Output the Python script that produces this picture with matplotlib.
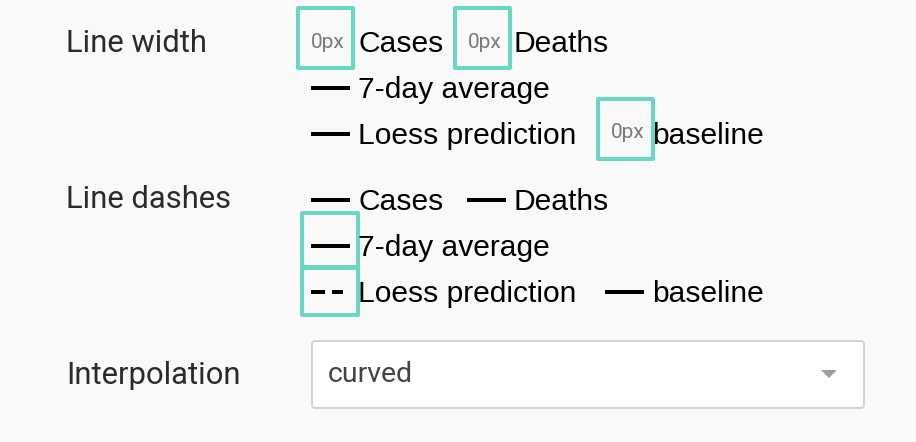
import matplotlib.pyplot as plt
from matplotlib.patches import Rectangle, FancyBboxPatch, Polygon
from matplotlib.lines import Line2D

plt.rcParams['lines.scale_dashes'] = False

# Settings panel content
sections = ['Line width', 'Line dashes', 'Interpolation']
series = ['Cases', 'Deaths', '7-day average', 'Loess prediction', 'baseline']
width_values = ['0px', '0px', None, None, '0px']   # None -> a line swatch is shown
dash_styles = ['solid', 'solid', 'solid', 'dashed', 'solid']
width_highlight = ['Cases', 'Deaths', 'baseline']
dash_highlight = ['7-day average', 'Loess prediction']
interpolation = 'curved'

# layout of the legend rows (indices into series)
rows = [[0, 1], [2], [3, 4]]
row_text_x = [[358, 514], [358], [358, 652]]
input_left = {0: 298, 1: 455, 4: 598}
width_rows_y = [43, 88, 134]
dash_rows_y = [200, 246, 292]
dash_box_y = {2: (213, 267), 3: (268, 315)}
section_y = [43, 200, 375]

bg = '#f9f9f9'
teal = '#68d8c4'
W, H = 916, 442

fig = plt.figure(figsize=(W / 100, H / 100), dpi=100)
fig.patch.set_facecolor(bg)
ax = fig.add_axes([0, 0, 1, 1])
ax.set_xlim(0, W)
ax.set_ylim(H, 0)
ax.axis('off')

px = 72 / 100  # one pixel in points

for name, y in zip(sections, section_y):
    ax.text(66, y, name, fontsize=22.3, family='Roboto', color='#2b2b2b',
            va='center', ha='left')


def swatch(x_text, y, style):
    if style == 'dashed':
        ln = Line2D([x_text - 47, x_text - 15], [y, y], color='black',
                    lw=4 * px, dash_capstyle='butt')
        ln.set_dashes((14 * px, 7 * px))
    else:
        ln = Line2D([x_text - 47, x_text - 8], [y, y], color='black',
                    lw=4 * px, solid_capstyle='butt')
    ax.add_line(ln)


def highlight(x0, y0, w, h):
    ax.add_patch(Rectangle((x0, y0), w, h, fill=False, ec=teal,
                           lw=4 * px, joinstyle='round'))


# Line width block
for row, xs, y in zip(rows, row_text_x, width_rows_y):
    for i, xt in zip(row, xs):
        val = width_values[i]
        if val is None:
            swatch(xt, y, 'solid')
        else:
            x0 = input_left[i]
            ax.text(x0 + 13, y - 1, val, fontsize=15, family='Roboto',
                    color='#7a7a7a', va='center', ha='left')
            if series[i] in width_highlight:
                highlight(x0, y - 35, 55, 60)
        ax.text(xt, y + 1.5, series[i], fontsize=21.6, family='Liberation Sans',
                color='black', va='center', ha='left')

# Line dashes block
for row, xs, y in zip(rows, row_text_x, dash_rows_y):
    for i, xt in zip(row, xs):
        swatch(xt, y, dash_styles[i])
        if series[i] in dash_highlight:
            y0, y1 = dash_box_y[i]
            highlight(302, y0, 56, y1 - y0)
        ax.text(xt, y + 1.5, series[i], fontsize=21.6, family='Liberation Sans',
                color='black', va='center', ha='left')

# Interpolation dropdown
ax.add_patch(FancyBboxPatch((312, 341), 552, 67,
                            boxstyle='round,pad=0,rounding_size=3',
                            fc='white', ec='#d4d4d4', lw=2 * px))
ax.text(328, section_y[2] - 1, interpolation, fontsize=20.5, family='Roboto',
        color='#444444', va='center', ha='left')
ax.add_patch(Polygon([(821, 370), (837, 370), (829, 378)], closed=True,
                     fc='#9e9e9e', ec='none'))

fig.savefig('out.png', dpi=100, facecolor=bg)
